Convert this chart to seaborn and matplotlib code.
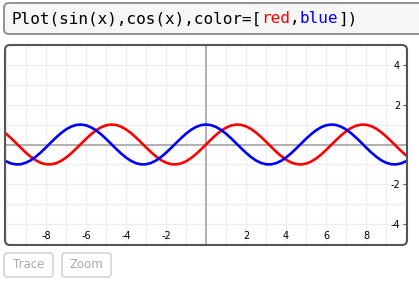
import matplotlib
matplotlib.use("Agg")
import matplotlib.pyplot as plt
import seaborn as sns
import pandas as pd
from matplotlib.patches import FancyBboxPatch
from matplotlib.transforms import IdentityTransform

# ---- data ----
x_vals = [-10, -9.75, -9.5, -9.25, -9, -8.75, -8.5, -8.25, -8, -7.75, -7.5, -7.25,
          -7, -6.75, -6.5, -6.25, -6, -5.75, -5.5, -5.25, -5, -4.75, -4.5, -4.25,
          -4, -3.75, -3.5, -3.25, -3, -2.75, -2.5, -2.25, -2, -1.75, -1.5, -1.25,
          -1, -0.75, -0.5, -0.25, 0, 0.25, 0.5, 0.75, 1, 1.25, 1.5, 1.75, 2, 2.25,
          2.5, 2.75, 3, 3.25, 3.5, 3.75, 4, 4.25, 4.5, 4.75, 5, 5.25, 5.5, 5.75, 6,
          6.25, 6.5, 6.75, 7, 7.25, 7.5, 7.75, 8, 8.25, 8.5, 8.75, 9, 9.25, 9.5,
          9.75, 10]
sin_vals = [0.544, 0.319, 0.075, -0.174, -0.412, -0.624, -0.798, -0.923, -0.989,
            -0.994, -0.938, -0.823, -0.657, -0.450, -0.215, 0.033, 0.279, 0.510,
            0.706, 0.859, 0.959, 0.999, 0.978, 0.895, 0.757, 0.572, 0.351, 0.108,
            -0.141, -0.382, -0.598, -0.778, -0.909, -0.984, -0.997, -0.949, -0.841,
            -0.682, -0.479, -0.247, 0.0, 0.247, 0.479, 0.682, 0.841, 0.949, 0.997,
            0.984, 0.909, 0.778, 0.598, 0.382, 0.141, -0.108, -0.351, -0.572,
            -0.757, -0.895, -0.978, -0.999, -0.959, -0.859, -0.706, -0.510, -0.279,
            -0.033, 0.215, 0.450, 0.657, 0.823, 0.938, 0.994, 0.989, 0.923, 0.798,
            0.624, 0.412, 0.174, -0.075, -0.319, -0.544]
cos_vals = [-0.839, -0.948, -0.997, -0.985, -0.911, -0.782, -0.602, -0.386, -0.146,
            0.108, 0.347, 0.568, 0.754, 0.893, 0.977, 0.999, 0.960, 0.861, 0.709,
            0.512, 0.284, 0.038, -0.211, -0.446, -0.654, -0.820, -0.936, -0.994,
            -0.990, -0.924, -0.801, -0.628, -0.416, -0.178, 0.071, 0.315, 0.540,
            0.732, 0.878, 0.969, 1.0, 0.969, 0.878, 0.732, 0.540, 0.315, 0.071,
            -0.178, -0.416, -0.628, -0.801, -0.924, -0.990, -0.994, -0.936, -0.820,
            -0.654, -0.446, -0.211, 0.038, 0.284, 0.512, 0.709, 0.861, 0.960, 0.999,
            0.977, 0.893, 0.754, 0.568, 0.347, 0.108, -0.146, -0.386, -0.602,
            -0.782, -0.911, -0.985, -0.997, -0.948, -0.839]
series_names = ["sin(x)", "cos(x)"]
series_colors = ["#ff0000", "#0000ff"]
x_ticks = [-8, -6, -4, -2, 2, 4, 6, 8]
y_ticks = [-4, -2, 2, 4]
grid_ticks = list(range(-10, 11))
command_parts = ["Plot(sin(x),cos(x),color=[", "red", ",", "blue", "])"]
command_colors = ["#000000", "#ff0000", "#000000", "#0000ff", "#000000"]
button_labels = ["Trace", "Zoom"]

df = pd.DataFrame({
    "x": x_vals * 2,
    "y": sin_vals + cos_vals,
    "f": [series_names[0]] * len(x_vals) + [series_names[1]] * len(x_vals),
})

sns.set_style("white")
plt.rcParams["axes.unicode_minus"] = False

W, H = 419, 281
fig = plt.figure(figsize=(W / 100, H / 100), dpi=100)
fig.patch.set_facecolor("white")

# plot frame pixels (from top): x 5..407, y 45..245
fl, fr, ft, fb = 5, 407, 45, 245
ax = fig.add_axes([fl / W, (H - fb) / H, (fr - fl) / W, (fb - ft) / H])
ax.set_facecolor("white")

for g in grid_ticks:
    ax.axvline(g, color="#eeeeee", lw=0.9, zorder=0)
    if -5 <= g <= 5:
        ax.axhline(g, color="#eeeeee", lw=0.9, zorder=0)
ax.axvline(0, color="#b0b0b0", lw=1.4, zorder=1)
ax.axhline(0, color="#b0b0b0", lw=1.4, zorder=1)

sns.lineplot(data=df, x="x", y="y", hue="f", palette=series_colors,
             hue_order=series_names, lw=1.9, legend=False, ax=ax, zorder=3,
             estimator=None, sort=False)

ax.set_xlim(-10.05, 10.05)
ax.set_ylim(-5.03, 4.98)
ax.set_xlabel("")
ax.set_ylabel("")
for s in ax.spines.values():
    s.set_visible(False)

ax.set_xticks(x_ticks)
ax.set_xticklabels([str(t) for t in x_ticks])
ax.set_yticks(y_ticks)
ax.set_yticklabels([str(t) for t in y_ticks])
ax.yaxis.tick_right()
ax.tick_params(axis="x", direction="in", length=3, width=0.8, color="#555555",
               pad=-6.7, labelsize=7, labelcolor="black")
ax.tick_params(axis="y", direction="in", length=3, width=0.8, color="#555555",
               pad=-5.0, labelsize=7, labelcolor="black")
for lab in ax.get_xticklabels():
    lab.set_va("center")
for lab in ax.get_yticklabels():
    lab.set_ha("right")

# rounded frame around the plot
frame = FancyBboxPatch((fl, H - fb), fr - fl, fb - ft,
                       boxstyle="round,pad=0,rounding_size=5",
                       transform=IdentityTransform(), fill=False,
                       edgecolor="#555555", lw=1.5, zorder=10)
fig.patches.append(frame)

# command input box
box = FancyBboxPatch((4, H - 34), 430, 31,
                     boxstyle="round,pad=0,rounding_size=5",
                     transform=IdentityTransform(), facecolor="#f6f6f6",
                     edgecolor="#8a8a8a", lw=1.3, zorder=1)
fig.patches.append(box)

cmd_texts = []
for part, col in zip(command_parts, command_colors):
    cmd_texts.append(fig.text(0, (H - 18.5) / H, part, color=col,
                              family="DejaVu Sans Mono", fontsize=11.5,
                              ha="left", va="center"))
fig.canvas.draw()
renderer = fig.canvas.get_renderer()
x_px = 11
for t in cmd_texts:
    t.set_x(x_px / W)
    x_px += t.get_window_extent(renderer).width

# buttons
bx = [4, 62]
for lbl, x0 in zip(button_labels, bx):
    b = FancyBboxPatch((x0, H - 277), 49, 24,
                       boxstyle="round,pad=0,rounding_size=3",
                       transform=IdentityTransform(), facecolor="white",
                       edgecolor="#cccccc", lw=1.0)
    fig.patches.append(b)
    fig.text((x0 + 24.5) / W, (H - 265) / H, lbl, color="#aaaaaa",
             fontsize=8.5, ha="center", va="center", family="DejaVu Sans")

fig.savefig("out.png", dpi=100)
